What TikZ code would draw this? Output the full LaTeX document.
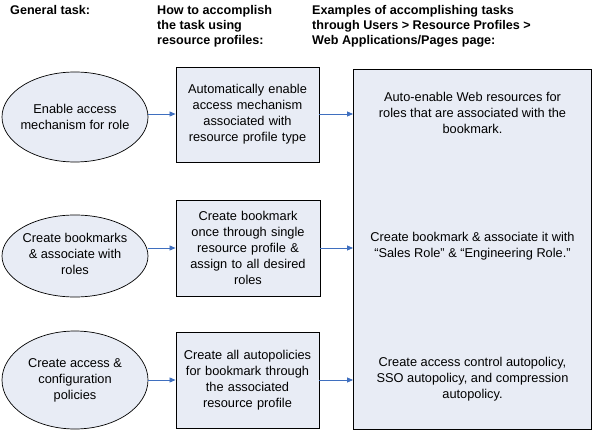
\documentclass[tikz,border=0pt]{standalone}
\usepackage{fontspec}
\setmainfont{Liberation Sans}
\usetikzlibrary{arrows.meta}
\definecolor{fillc}{HTML}{E8ECF5}
\definecolor{arrc}{HTML}{3F6FBF}
\begin{document}
\begin{tikzpicture}[x=1pt,y=-1pt,
  boxn/.style={draw=black, fill=fillc, line width=0.9pt, align=center, font=\fontsize{12.8}{16}\selectfont},
  lbl/.style={align=center, font=\fontsize{12.8}{16}\selectfont},
  hdr/.style={align=left, anchor=north west, font=\fontsize{12.6}{15}\selectfont\bfseries, inner sep=0pt},
  conn/.style={draw=arrc, line width=0.8pt, -{Triangle[length=6pt,width=5pt]}}]
\useasboundingbox (0,0) rectangle (593,430);
% headers
\node[hdr] (h1) at (10,5) {General task:};
\node[hdr] (h2) at (157,5) {How to accomplish\\the task using\\resource profiles:};
\node[hdr] (h3) at (312,5) {Examples of accomplishing tasks\\through Users > Resource Profiles >\\Web Applications/Pages page:};
% ellipses
\draw[fill=fillc, line width=0.7pt] (75,117) ellipse [x radius=73, y radius=45];
\node[lbl] (e1) at (75,117) {Enable access\\mechanism for role};
\coordinate (e1r) at (148,114);
\draw[fill=fillc, line width=0.7pt] (75,256) ellipse [x radius=73, y radius=41];
\node[lbl] (e2) at (75,254) {Create bookmarks\\\& associate with\\roles};
\coordinate (e2r) at (148,248);
\draw[fill=fillc, line width=0.7pt] (75,380) ellipse [x radius=73, y radius=49];
\node[lbl] (e3) at (75,380) {Create access \&\\configuration\\policies};
\coordinate (e3r) at (148,380);
% middle boxes
\node[boxn, minimum width=143, minimum height=95, text width=140, inner sep=0pt] (b1) at (247.5,114.5) {Automatically enable\\access mechanism\\associated with\\resource profile type};
\node[boxn, minimum width=144, minimum height=96, text width=140, inner sep=0pt] (b2) at (248,248) {Create bookmark\\once through single\\resource profile \&\\assign to all desired\\roles};
\node[boxn, minimum width=143, minimum height=96, text width=140, inner sep=0pt] (b3) at (247.5,380) {Create all autopolicies\\for bookmark through\\the associated\\resource profile};
% big box
\node[draw=black, fill=fillc, line width=0.9pt, minimum width=238, minimum height=360, inner sep=0pt] (big) at (472.5,249) {};
\node[lbl] (t1) at (472.5,113) {Auto-enable Web resources for\\roles that are associated with the\\bookmark.};
\node[lbl] (t2) at (472.5,246) {Create bookmark \& associate it with\\“Sales Role” \& “Engineering Role.”};
\node[lbl] (t3) at (472.5,379) {Create access control autopolicy,\\SSO autopolicy, and compression\\autopolicy.};
% connectors
\draw[conn] (e1r) -- (b1.west |- e1r);
\draw[conn] (e2r) -- (b2.west |- e2r);
\draw[conn] (e3r) -- (b3.west |- e3r);
\draw[conn] (b1.east |- e1r) -- (big.west |- e1r);
\draw[conn] (b2.east |- e2r) -- (big.west |- e2r);
\draw[conn] (b3.east |- e3r) -- (big.west |- e3r);
\end{tikzpicture}
\end{document}
